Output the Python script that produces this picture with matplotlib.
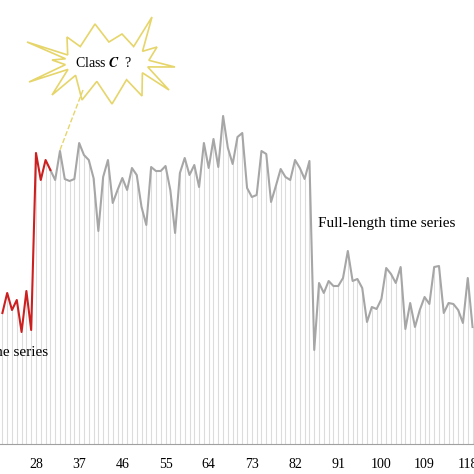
import numpy as np
import matplotlib.pyplot as plt
from matplotlib.patches import Polygon

plt.rcParams['font.family'] = ['Liberation Serif', 'DejaVu Serif']
plt.rcParams['mathtext.fontset'] = 'stix'

# series values (height above the baseline, in px)
x_start = 21
y_px = [313, 293, 310, 300, 332, 291, 330,                        # 21-27
        153, 180, 160, 170, 180, 151, 179, 181, 179, 143,         # 28-37
        155, 160, 178, 231, 177, 160, 203, 190, 178, 190,         # 38-47
        168, 175, 207, 225, 167, 171, 171, 166, 190, 233,         # 48-57
        173, 158, 175, 165, 187, 143, 168, 139, 167, 116,         # 58-67
        148, 164, 137, 133, 188, 197, 195, 151, 154, 202,         # 68-77
        186, 169, 177, 180, 160, 168, 179, 161, 350, 283,         # 78-87
        293, 281, 286, 286, 278, 251, 281, 279, 288, 322,         # 88-97
        307, 309, 299, 268, 274, 283, 267, 329, 303, 327,         # 98-107
        310, 297, 304, 267, 266, 313, 303, 304, 310, 323,         # 108-117
        278, 327]                                                 # 118-119
values = [444 - v for v in y_px]
red_end = 31
tick_labels = ['28', '37', '46', '55', '64', '73', '82', '91', '100', '109', '118']

xs = np.arange(x_start, x_start + len(values))
vals = np.array(values)

fig = plt.figure(figsize=(4.74, 4.74), dpi=100)
ax = fig.add_axes([0, 30 / 474, 1, 444 / 474])
ax.vlines(xs, 0, vals, color='#dcdcdc', lw=0.8, zorder=1)
gray = xs >= red_end
ax.plot(xs[gray], vals[gray], color='#a6a6a6', lw=1.5, zorder=2)
red = xs <= red_end
ax.plot(xs[red], vals[red], color='#cc1f1f', lw=1.5, zorder=3)

ax.set_xlim(20.5, 119.3)
ax.set_ylim(0, 444)
for s in ['top', 'right', 'left']:
    ax.spines[s].set_visible(False)
ax.spines['bottom'].set_color('#a0a0a0')
ax.set_yticks([])
ax.set_xticks([int(t) for t in tick_labels])
ax.set_xticklabels(tick_labels, fontsize=10)
ax.tick_params(axis='x', length=0, pad=10)

# overlay in pixel coordinates for the callout
ov = fig.add_axes([0, 0, 1, 1])
ov.set_xlim(0, 474)
ov.set_ylim(474, 0)
ov.axis('off')

# starburst: spike tips (dx, dy) from the centre, valleys in between
cx, cy = 107, 62
tips = [(68, 5), (62, 28), (35, 34), (5, 42), (-25, 38), (-55, 33),
        (-78, 20), (-55, -2), (-80, -20), (-40, -25), (-12, -38),
        (15, -28), (45, -45), (50, -15)]
pts = []
for i, (dx, dy) in enumerate(tips):
    pts.append((cx + dx, cy + dy))
    nx, ny = tips[(i + 1) % len(tips)]
    a = np.arctan2(dy + ny, dx + nx)
    pts.append((cx + 42 * np.cos(a), cy + 20 * np.sin(a)))
ov.add_patch(Polygon(pts, closed=True, facecolor='white', edgecolor='#e6d56a', lw=1.2))
ov.text(cx - 3, cy + 1, r'Class $\boldsymbol{C}$  ?', ha='center', va='center', fontsize=10)
ov.plot([83, 60], [90, 150], color='#e6d56a', lw=1, ls='--')

ov.text(318, 223, 'Full-length time series', fontsize=11, va='center')
ov.text(48, 352, 'Time series', fontsize=11, va='center', ha='right')

fig.savefig('out.png', dpi=100)
